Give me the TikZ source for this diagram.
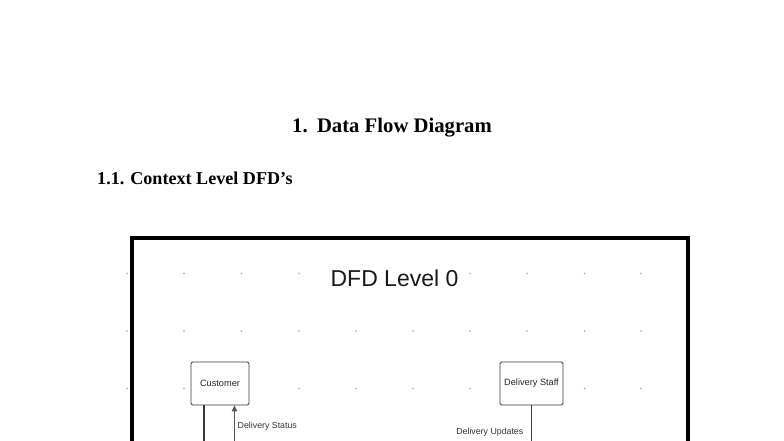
\documentclass[tikz,border=0pt]{standalone}
\usepackage{fontspec}
\setmainfont{Liberation Serif}
\newfontfamily\arialf{Liberation Sans}
\usetikzlibrary{arrows.meta}
\definecolor{gridgray}{HTML}{A0A0A0}
\definecolor{edgegray}{HTML}{3A3A3A}
\definecolor{flowgray}{HTML}{555555}
\tikzset{
  entity/.style={draw=edgegray, line width=0.8pt, rounded corners=1.5pt,
    minimum height=43pt, inner sep=0pt,
    font=\arialf\fontsize{9.2}{11}\selectfont, text=black!85},
  flow/.style={draw=flowgray, line width=1.1pt},
  flowlabel/.style={font=\arialf\fontsize{8.8}{10}\selectfont, text=black!80, inner sep=0pt},
  heading/.style={font=\bfseries, inner sep=0pt, anchor=base west},
  griddot/.style={fill=gridgray, draw=none},
}
\begin{document}
\begin{tikzpicture}[x=1pt,y=-1pt]
\useasboundingbox (0,0) rectangle (784,441);
\clip (0,0) rectangle (784,441);
\fill[white] (0,0) rectangle (784,441);
% headings
\node[heading, font=\bfseries\fontsize{20.7}{24}\selectfont] (h1) at (292,132.3) {1.\hspace{0.45em}Data Flow Diagram};
\node[heading, font=\bfseries\fontsize{18.1}{22}\selectfont] (h2) at (97,184.3) {1.1. Context Level DFD’s};
% frame
\draw[line width=4pt, black] (131.5,460) -- (131.5,238) -- (687.5,238) -- (687.5,460);
% grid dots
\foreach \y in {273.5,331,388.5}{
  \foreach \x in {127,184,241.5,299,356,413,470,527,584.5,641}{
    \fill[griddot] (\x,\y) circle (0.9pt);
  }
}
% title
\node[font=\arialf\fontsize{23}{27}\selectfont, fill=white, inner sep=1pt, text=black!90] (title) at (394.5,278.5) {DFD Level 0};
% entities
\node[entity, fill=white, minimum width=58pt] (cust) at (220,383.5) {Customer};
\node[entity, fill=white, minimum width=63pt] (staff) at (531.5,383.5) {Delivery Staff};
% free ends below the picture
\coordinate (c1) at (204,450);
\coordinate (c2) at (234.5,450);
\coordinate (s1) at (531.5,450);
% flows
\draw[flow, draw=edgegray] (cust.south -| c1) -- (c1);
\draw[flow, -{Triangle[length=6pt,width=5.5pt]}] (c2) -- (cust.south -| c2);
\draw[flow, draw=edgegray] (staff.south) -- (s1);
% labels
\node[flowlabel, anchor=west] (l1) at (237.5,426) {Delivery Status};
\node[flowlabel, anchor=east] (l2) at (523.5,432.5) {Delivery Updates};
\end{tikzpicture}
\end{document}
